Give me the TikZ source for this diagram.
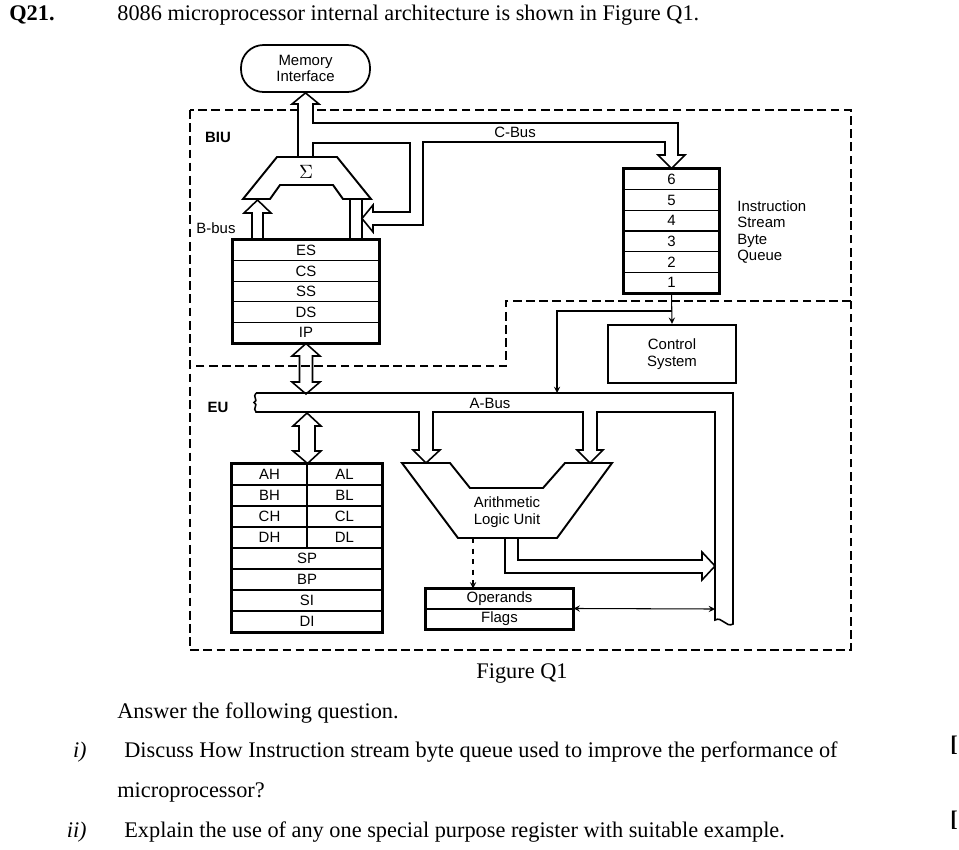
\documentclass[tikz,border=0pt]{standalone}
\usepackage{fontspec}
\setmainfont{Liberation Serif}
\setsansfont{Liberation Sans}
\usetikzlibrary{positioning, arrows}

\begin{document}
\begin{tikzpicture}[x=0.02cm, y=-0.02cm, >=stealth,
    every node/.style={font=\sffamily\fontsize{8.5}{9.4}\selectfont, align=center, inner sep=0pt},
    reg/.style={draw, line width=0.6pt},
    box/.style={draw, line width=1.3pt},
    bus/.style={draw, line width=0.9pt, line join=miter},
    zone/.style={line width=0.9pt, dash pattern=on 5pt off 2.5pt},
    txt/.style={font=\fontsize{12.7}{15}\selectfont, anchor=west}]
    \useasboundingbox (0,0) rectangle (959,849);

    % question text
    \node[txt, font=\bfseries\fontsize{12.7}{15}\selectfont] (qno) at (9,15) {Q21.};
    \node[txt] (qtext) at (117,15) {8086 microprocessor internal architecture is shown in Figure Q1.};
    \node[txt, anchor=center] (fig) at (522,674) {Figure Q1};
    \node[txt] (ans) at (117,713) {Answer the following question.};
    \node[txt, anchor=east] (ia) at (87,752) {\itshape i)};
    \node[txt] (ib) at (124,752) {Discuss How Instruction stream byte queue used to improve the performance of};
    \node[txt] (ic) at (117,792) {microprocessor?};
    \node[txt, anchor=east] (iia) at (87,832) {\itshape ii)};
    \node[txt] (iib) at (124,832) {Explain the use of any one special purpose register with suitable example.};
    \node[txt, font=\bfseries\fontsize{12.7}{15}\selectfont] (mk1) at (950,745) {[};
    \node[txt, font=\bfseries\fontsize{12.7}{15}\selectfont] (mk2) at (950,820) {[};

    % unit boundaries
    \draw[zone] (190,110) rectangle (851,650);
    \draw[zone] (851,301) -- (506,301) -- (506,366) -- (190,366);
    \node[font=\sffamily\bfseries\fontsize{8.5}{9.4}\selectfont] (biu) at (218,137) {BIU};
    \node[font=\sffamily\bfseries\fontsize{8.5}{9.4}\selectfont] (eu) at (218,407) {EU};
    \node (bbus) at (216,228) {B-bus};

    \node[draw, line width=1pt, rounded corners=0.45cm, minimum width=2.58cm, minimum height=0.94cm] (mem) at (305.5,68.5) {Memory\\Interface};

    % segment registers
    \foreach \r [count=\i] in {ES,CS,SS,DS,IP}
        \node[reg, minimum width=2.92cm, minimum height=0.412cm] (\r) at (306,229.7+20.6*\i) {\r};
    \draw[box] (ES.north west) rectangle (IP.south east);

    % instruction queue
    \foreach \n [count=\i] in {6,5,4,3,2,1}
        \node[reg, minimum width=1.9cm, minimum height=0.4134cm] (q\n) at (671.5,158.67+20.67*\i) {\n};
    \draw[box] (q6.north west) rectangle (q1.south east);
    \node[anchor=west, align=left] (isbq) at (737,232) {Instruction\\Stream\\Byte\\Queue};

    \node[box, minimum width=2.56cm, minimum height=1.16cm] (ctrl) at (672,354) {Control\\System};

    % general registers
    \foreach \h/\l [count=\i] in {AH/AL,BH/BL,CH/CL,DH/DL} {
        \node[reg, minimum width=1.5cm, minimum height=0.42cm] (\h) at (269.5,453.5+21*\i) {\h};
        \node[reg, minimum width=1.5cm, minimum height=0.42cm] (\l) at (344.5,453.5+21*\i) {\l};
    }
    \foreach \r [count=\i] in {SP,BP,SI,DI}
        \node[reg, minimum width=3cm, minimum height=0.42cm] (\r) at (307,537.5+21*\i) {\r};
    \draw[box] (AH.north west) rectangle (DI.south east);

    \node[reg, minimum width=2.94cm, minimum height=0.4cm] (opd) at (499.5,599) {Operands};
    \node[reg, minimum width=2.94cm, minimum height=0.4cm] (flg) at (499.5,619) {Flags};
    \draw[box] (opd.north west) rectangle (flg.south east);

    % adder and ALU
    \draw[bus, line width=1.1pt] (243,199) -- (277,157) -- (337,157) -- (371,199) -- (343,199) -- (333,185) -- (280,185) -- (270,199) -- cycle;
    \node[font=\fontsize{10.5}{12}\selectfont] (sum) at (306,172) {$\Sigma$};
    \draw[bus, line width=1.1pt] (402,463) -- (450,463) -- (470,488) -- (543,488) -- (565,463) -- (612,463) -- (557,538) -- (458,538) -- cycle;
    \node (alu) at (507,512) {Arithmetic\\Logic Unit};

    % C-bus
    \fill[white] (298.5,104.5) rectangle (312.5,122.5);
    \draw[bus] (298,157) -- (298,104) -- (292,104) -- (mem.south) -- (319,104) -- (313,104) -- (313,123)
        -- (678,123) -- (678,155) -- (685,155) -- (q6.north) -- (658,155) -- (665,155) -- (665,142)
        -- (423,142) -- (423,225) -- (373,225) -- (373,232) -- (362,218.5) -- (373,205) -- (373,212)
        -- (410,212) -- (410,143) -- (313,143) -- (313,157);
    \node (cbus) at (515,132) {C-Bus};

    % B-bus
    \draw[bus] (252,240) -- (252,213) -- (244,213) -- (257.5,200) -- (271,213) -- (263,213) -- (263,240);
    \draw[bus] (350,199) -- (350,240) (362,199) -- (362,240);

    % A-bus
    \draw[bus] (256,393) -- (733,393) -- (733,624) .. controls (726,628) and (722,616) .. (715,620)
        -- (715,412) -- (597,412) -- (597,450) -- (603,450) -- (590,463) -- (577,450) -- (583,450)
        -- (583,412) -- (433,412) -- (433,450) -- (440,450) -- (426,463) -- (413,450) -- (419,450)
        -- (419,412) -- (256,412) .. controls (252,408) and (259,405) .. (254,402.5)
        .. controls (259,400) and (252,397) .. (256,393);
    \node (abus) at (490,403) {A-Bus};

    \draw[bus] (IP.south) -- (320,356) -- (312.5,356) -- (312.5,382) -- (320,382) -- (306,394) -- (292,382)
        -- (299.5,382) -- (299.5,356) -- (292,356) -- cycle;
    \draw[bus] (307,413) -- (321,426) -- (315,426) -- (315,451) -- (321,451) -- (AH.north east) -- (293,451)
        -- (299,451) -- (299,426) -- (293,426) -- cycle;

    % ALU result
    \draw[bus] (505,538) -- (505,573) -- (702,573) -- (702,580) -- (715,566) -- (702,552) -- (702,560) -- (518,560) -- (518,538);

    % control paths
    \coordinate (tap) at (671.5,311);
    \coordinate (abusin) at (557,393);
    \coordinate (aluout) at (473,538);
    \coordinate (abusr) at (715,609);
    \draw[->, semithick] (q1.south) -- (ctrl.north);
    \draw[->, semithick] (tap) -| (abusin);
    \draw[->, semithick, dashed] (aluout) -- (aluout |- opd.north);
    \draw[<->, semithick] (flg.north east) -- (abusr);
\end{tikzpicture}
\end{document}
